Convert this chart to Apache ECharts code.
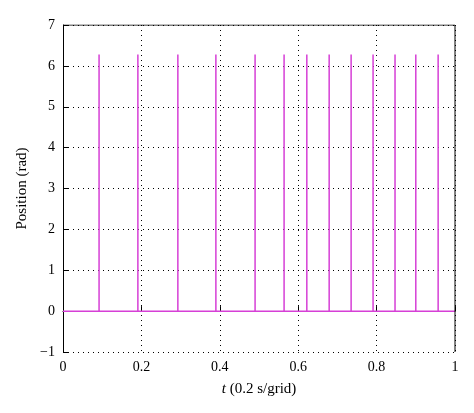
<!DOCTYPE html><html><head><meta charset="utf-8"><script src="https://cdn.jsdelivr.net/npm/echarts@6/dist/echarts.min.js"></script></head><body style="margin:0"><div id="c" style="width:474px;height:413px"></div><script>
const spikeTimes=[0.092,0.191,0.293,0.39,0.49,0.564,0.622,0.679,0.735,0.791,0.847,0.90,0.957];
const spikeHeight=6.28;
const xTicks=[0,0.2,0.4,0.6,0.8,1];
const data=[[0,0]];
spikeTimes.forEach(t=>{data.push([t,0],[t,spikeHeight],[t,0]);});
data.push([1,0]);
const ch=echarts.init(document.getElementById('c'));
const ax={color:'#000',fontFamily:'Liberation Serif',fontSize:14};
ch.setOption({animation:false,
grid:{left:63,right:19,top:25,bottom:61},
xAxis:{type:'value',min:0,max:1,interval:0.2,
 name:'{i|t} (0.2 s/grid)',nameLocation:'middle',nameGap:30,
 nameTextStyle:{fontFamily:'Liberation Serif',fontSize:15,color:'#000',rich:{i:{fontStyle:'italic',fontFamily:'Liberation Serif',fontSize:15}}},
 axisLine:{lineStyle:{color:'#000'}},axisTick:{inside:true,lineStyle:{color:'#000'}},
 axisLabel:Object.assign({formatter:v=>String(+v.toFixed(1))},ax),
 splitLine:{show:true,lineStyle:{type:[1,4],color:'#000'}}},
yAxis:{type:'value',min:-1,max:7,interval:1,name:'Position (rad)',nameLocation:'middle',nameGap:32,
 nameTextStyle:{fontFamily:'Liberation Serif',fontSize:15,color:'#000'},
 axisLine:{lineStyle:{color:'#000'}},axisTick:{inside:true,lineStyle:{color:'#000'}},
 axisLabel:Object.assign({formatter:v=>v<0?'\u2212'+(-v):String(v)},ax),
 splitLine:{show:true,lineStyle:{type:[1,4],color:'#000'}}},
series:[{type:'line',data:data,showSymbol:false,lineStyle:{color:'#d63fd6',width:1.5}},
 {type:'line',data:[[0,7],[1,7]],showSymbol:false,lineStyle:{color:'#000',width:1},silent:true},
 {type:'line',data:[[1,-1],[1,7]],showSymbol:false,lineStyle:{color:'#000',width:1},silent:true}]
});
</script></body></html>
